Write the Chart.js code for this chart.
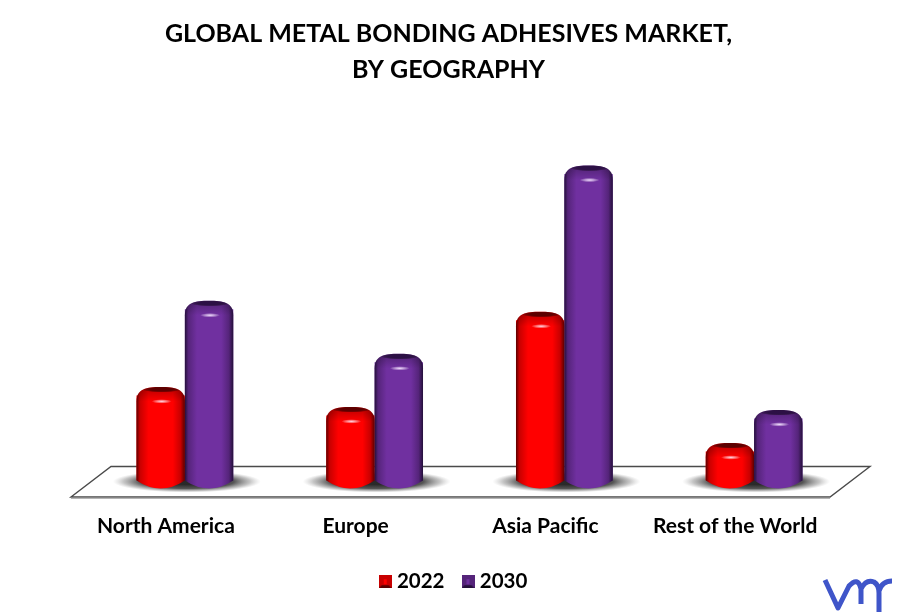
<!DOCTYPE html>
<html>
<head>
<meta charset="utf-8">
<title>Global Metal Bonding Adhesives Market, By Geography</title>
<script src="https://cdn.jsdelivr.net/npm/chart.js@4/dist/chart.umd.min.js"></script>
<style>
  html, body { margin: 0; padding: 0; background: #fff; }
  #wrap { width: 897px; height: 613px; }
</style>
</head>
<body>
<div id="wrap"><canvas id="geoChart" width="897" height="613"></canvas></div>
<script>
const regions = ["North America", "Europe", "Asia Pacific", "Rest of the World"];
const series = [
  { label: "2022", values: [8.5, 6.5, 16.0, 2.9] },
  { label: "2030", values: [17.1, 11.8, 30.6, 6.2] },
];

const tones = {
  2022: { main: "#ff0000", mid: "#c80000", dark: "#5a0000", top: "#5c0000", glow: "#ffd0e0" },
  2030: { main: "#7030a0", mid: "#55247a", dark: "#24103a", top: "#2c1045", glow: "#f0d8ff" },
};

function makeSwatch(tone) {
  const size = 13;
  const c = document.createElement("canvas");
  c.width = size;
  c.height = size;
  const g = c.getContext("2d");
  g.fillStyle = tone.mid;
  g.fillRect(0, 0, size, size);
  g.fillStyle = tone.dark;
  g.beginPath();
  g.moveTo(0, size);
  g.lineTo(3, size - 3);
  g.lineTo(size - 3, size - 3);
  g.lineTo(size, size);
  g.closePath();
  g.fill();
  g.fillStyle = tone.main;
  g.fillRect(5, 4, 3, 5);
  return c;
}

function drawFloor(ctx, area) {
  const bottom = area.bottom;
  ctx.save();
  ctx.beginPath();
  ctx.moveTo(area.left - 19, bottom + 16.5);
  ctx.lineTo(area.right - 19, bottom + 16.5);
  ctx.lineTo(area.right + 21, bottom - 14);
  ctx.lineTo(area.left + 21, bottom - 14);
  ctx.closePath();
  ctx.fillStyle = "#ffffff";
  ctx.fill();
  ctx.strokeStyle = "#4a4a4a";
  ctx.lineWidth = 1.4;
  ctx.stroke();
  ctx.beginPath();
  ctx.moveTo(area.left - 19, bottom + 17.8);
  ctx.lineTo(area.right - 19, bottom + 17.8);
  ctx.strokeStyle = "#b5b5b5";
  ctx.lineWidth = 1.2;
  ctx.stroke();
  ctx.restore();
}

function drawShadow(ctx, cx, y) {
  ctx.save();
  ctx.translate(cx + 2, y + 1);
  ctx.scale(1, 0.15);
  const g = ctx.createRadialGradient(0, 0, 20, 0, 0, 74);
  g.addColorStop(0, "rgba(30,30,30,0.95)");
  g.addColorStop(0.5, "rgba(55,55,55,0.85)");
  g.addColorStop(0.8, "rgba(110,110,110,0.4)");
  g.addColorStop(1, "rgba(160,160,160,0)");
  ctx.fillStyle = g;
  ctx.beginPath();
  ctx.arc(0, 0, 74, 0, Math.PI * 2);
  ctx.fill();
  ctx.restore();
}

function drawCylinder(ctx, bar, tone) {
  const half = bar.width / 2;
  const left = bar.x - half;
  const right = bar.x + half;
  const topY = bar.y;
  const baseY = bar.base;
  const shoulder = 6;

  ctx.save();
  ctx.beginPath();
  ctx.moveTo(left, baseY);
  ctx.lineTo(left, topY + shoulder);
  ctx.bezierCurveTo(left, topY - 7, left + 10, topY - 8.5, bar.x, topY - 8.5);
  ctx.bezierCurveTo(right - 10, topY - 8.5, right, topY - 7, right, topY + shoulder);
  ctx.lineTo(right, baseY);
  ctx.quadraticCurveTo(bar.x, baseY + 16, left, baseY);
  ctx.closePath();

  const body = ctx.createLinearGradient(left, 0, right, 0);
  body.addColorStop(0, tone.dark);
  body.addColorStop(0.07, tone.mid);
  body.addColorStop(0.25, tone.main);
  body.addColorStop(0.75, tone.main);
  body.addColorStop(0.91, tone.mid);
  body.addColorStop(1, tone.dark);
  ctx.fillStyle = body;
  ctx.fill();
  ctx.clip();

  // darker shoulder fading into the body
  const band = ctx.createLinearGradient(0, topY - 9, 0, topY + 6);
  band.addColorStop(0, "rgba(0,0,0,0.3)");
  band.addColorStop(1, "rgba(0,0,0,0)");
  ctx.fillStyle = band;
  ctx.fillRect(left, topY - 9, bar.width, 15);

  // dark cap on top of the cylinder
  ctx.save();
  ctx.translate(bar.x + 1, topY - 6);
  ctx.scale(1, 0.16);
  const cap = ctx.createRadialGradient(0, 0, 2, 0, 0, half * 0.8);
  cap.addColorStop(0, tone.top);
  cap.addColorStop(0.45, tone.top);
  cap.addColorStop(1, "rgba(0,0,0,0)");
  ctx.fillStyle = cap;
  ctx.beginPath();
  ctx.arc(0, 0, half * 0.8, 0, Math.PI * 2);
  ctx.fill();
  ctx.restore();

  // small highlight on the shoulder
  ctx.save();
  ctx.translate(bar.x + 1, topY + 6);
  ctx.scale(1, 0.22);
  const glow = ctx.createRadialGradient(0, 0, 0, 0, 0, 10);
  glow.addColorStop(0, tone.glow);
  glow.addColorStop(1, "rgba(255,255,255,0)");
  ctx.fillStyle = glow;
  ctx.beginPath();
  ctx.arc(0, 0, 10, 0, Math.PI * 2);
  ctx.fill();
  ctx.restore();
  ctx.restore();
}

const cylinderPlugin = {
  id: "cylinders",
  afterLayout(chart) {
    // legend sits a little right of the title's centre
    chart.legend.left += 7;
    chart.legend.right += 7;
  },
  beforeDatasetsDraw(chart) {
    const { ctx, chartArea } = chart;
    drawFloor(ctx, chartArea);
    const metaA = chart.getDatasetMeta(0);
    const metaB = chart.getDatasetMeta(1);
    metaA.data.forEach((bar, i) => {
      const cx = (bar.x + metaB.data[i].x) / 2;
      drawShadow(ctx, cx, bar.base);
    });
  },
  afterDatasetsDraw(chart) {
    const { ctx } = chart;
    chart.data.datasets.forEach((ds, d) => {
      chart.getDatasetMeta(d).data.forEach((bar) => {
        drawCylinder(ctx, bar, tones[ds.label]);
      });
    });
  },
  afterDraw(chart) {
    // vmr logo, bottom right corner
    const { ctx } = chart;
    ctx.save();
    ctx.strokeStyle = "#3f55c9";
    ctx.lineWidth = 5;
    ctx.lineCap = "butt";
    ctx.lineJoin = "round";
    ctx.beginPath();
    ctx.moveTo(825, 580);
    ctx.lineTo(838, 608);
    ctx.lineTo(849, 586);
    ctx.quadraticCurveTo(858, 576, 861, 589);
    ctx.lineTo(861, 604);
    ctx.moveTo(861, 589);
    ctx.quadraticCurveTo(866, 579, 874, 582);
    ctx.quadraticCurveTo(879, 585, 879, 593);
    ctx.lineTo(879, 612);
    ctx.moveTo(879, 591);
    ctx.quadraticCurveTo(882, 581, 892, 581);
    ctx.stroke();
    ctx.restore();
  },
};

const chart = new Chart(document.getElementById("geoChart"), {
  type: "bar",
  data: {
    labels: regions,
    datasets: series.map((s) => ({
      label: s.label,
      data: s.values,
      backgroundColor: tones[s.label].main,
      pointStyle: makeSwatch(tones[s.label]),
      categoryPercentage: 0.51,
      barPercentage: 1,
    })),
  },
  options: {
    responsive: false,
    animation: false,
    devicePixelRatio: 1,
    layout: { padding: { left: 48, right: 48, top: 14, bottom: 11 } },
    scales: {
      x: {
        grid: { display: false },
        border: { display: false },
        afterFit(scale) {
          scale.height = 69;
        },
        ticks: {
          color: "#000000",
          padding: 25,
          labelOffset: -19,
          maxRotation: 0,
          font: { family: "Lato", weight: "bold", size: 21 },
        },
      },
      y: {
        min: 0,
        max: 35,
        grid: { display: false },
        border: { display: false },
        ticks: { display: false },
        afterFit(scale) {
          scale.width = 42;
        },
      },
    },
    plugins: {
      title: {
        display: true,
        text: ["GLOBAL METAL BONDING ADHESIVES MARKET,", "BY GEOGRAPHY"],
        color: "#000000",
        font: { family: "Lato", weight: "bold", size: 25, lineHeight: 1.44 },
        padding: { top: 2, bottom: 42 },
      },
      legend: {
        position: "bottom",
        labels: {
          color: "#000000",
          usePointStyle: true,
          pointStyleWidth: 3,
          padding: 22,
          font: { family: "Lato", weight: "bold", size: 20.5 },
        },
      },
      tooltip: { enabled: false },
    },
  },
  plugins: [cylinderPlugin],
});
</script>
</body>
</html>
